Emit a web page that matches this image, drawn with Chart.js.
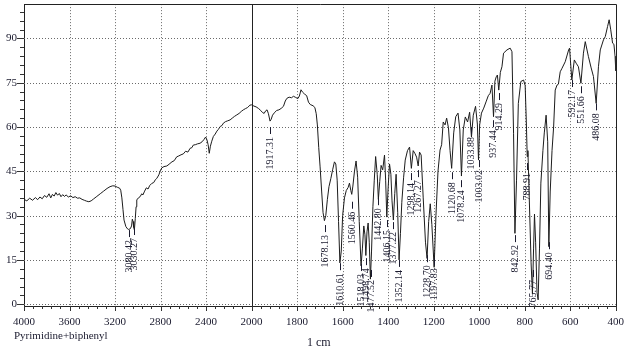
<!DOCTYPE html>
<html>
<head>
<meta charset="utf-8">
<script src="https://cdn.jsdelivr.net/npm/chart.js@4.4.1/dist/chart.umd.min.js"></script>
<style>
  html, body { margin: 0; padding: 0; background: #fff; }
  #wrap { position: relative; width: 624px; height: 352px; overflow: hidden; }
  canvas { position: absolute; left: 0; top: 0; }
  .note { position: absolute; font-family: "Liberation Serif", "DejaVu Serif", serif; color: #1a1a2e; white-space: nowrap; }
</style>
</head>
<body>
<div id="wrap">
  <canvas id="c" width="624" height="352"></canvas>
  <div class="note" id="sample" style="left:14px; top:329px; font-size:11px;">Pyrimidine+biphenyl</div>
  <div class="note" id="scaleNote" style="left:307px; top:335px; font-size:12px;">1 cm</div>
</div>
<script>
// ---- data ----
const xTickLabels = [4000, 3600, 3200, 2800, 2400, 2000, 1800, 1600, 1400, 1200, 1000, 800, 600, 400];
const yTickLabels = [0, 15, 30, 45, 60, 75, 90];

const wavenumber = [
  4000, 3975, 3950, 3925, 3900, 3880, 3860, 3840, 3820, 3800, 3780, 3765, 3750, 3735, 3720, 3705, 3690, 3675, 3660, 3645,
  3630, 3610, 3590, 3570, 3550, 3530, 3510, 3490, 3470, 3450, 3430, 3410, 3390, 3360, 3330, 3300, 3270, 3244, 3220, 3200,
  3180, 3160, 3150, 3140, 3130, 3121, 3105, 3090, 3080, 3065, 3055, 3048, 3042, 3036, 3030, 3022, 3015, 3009, 2995, 2980,
  2965, 2955, 2940, 2925, 2910, 2895, 2877, 2860, 2845, 2833, 2815, 2800, 2788, 2770, 2745, 2725, 2700, 2680, 2658, 2640,
  2620, 2600, 2580, 2560, 2540, 2525, 2512, 2495, 2475, 2453, 2435, 2418, 2404, 2392, 2382, 2372, 2362, 2350, 2336, 2320,
  2305, 2292, 2275, 2260, 2248, 2230, 2210, 2189, 2170, 2150, 2130, 2110, 2090, 2073, 2055, 2035, 2015, 2000, 1990, 1980,
  1970, 1960, 1952, 1945, 1938, 1932, 1926, 1919, 1914, 1908, 1900, 1890, 1880, 1870, 1860, 1852, 1845, 1835, 1825, 1816,
  1806, 1797, 1790, 1783, 1776, 1768, 1758, 1750, 1742, 1730, 1722, 1716, 1711, 1705, 1699, 1692, 1686, 1680, 1674, 1667,
  1660, 1652, 1644, 1636, 1630, 1624, 1618, 1612, 1606, 1600, 1592, 1584, 1576, 1570, 1564, 1560, 1555, 1548, 1541, 1534,
  1527, 1519, 1513, 1507, 1502, 1498, 1493, 1488, 1483, 1478, 1473, 1467, 1461, 1455, 1448, 1443, 1437, 1431, 1424, 1416,
  1411, 1406, 1400, 1394, 1388, 1383, 1377, 1371, 1365, 1358, 1352, 1346, 1340, 1332, 1325, 1315, 1306, 1298, 1290, 1282,
  1275, 1268, 1262, 1255, 1246, 1236, 1229, 1222, 1215, 1208, 1198, 1190, 1181, 1172, 1165, 1158, 1150, 1143, 1135, 1128,
  1121, 1112, 1103, 1093, 1085, 1078, 1070, 1061, 1051, 1042, 1034, 1026, 1016, 1008, 1003, 998, 990, 980, 970, 960,
  952, 944, 937, 931, 925, 920, 914, 907, 900, 893, 878, 864, 856, 849, 843, 836, 828, 817, 805, 798,
  793, 789, 786, 780, 772, 766, 761, 757, 752, 746, 741, 735, 729, 720, 714, 706, 699, 694, 688, 680,
  673, 666, 658, 652, 644, 636, 622, 607, 603, 593, 582, 574, 564, 553, 542, 534, 520, 508, 498, 486,
  476, 468, 454, 446, 436, 429, 422, 414, 408, 403, 400
];
const transmittance = [
  35.5, 35.0, 35.9, 35.2, 36.1, 35.4, 36.3, 35.7, 36.8, 36.2, 37.4, 36.0, 37.2, 36.6, 37.8, 36.9, 37.5, 36.4, 37.1, 36.5,
  37.0, 36.3, 36.7, 36.1, 36.4, 35.9, 36.0, 35.5, 35.2, 34.9, 34.7, 35.0, 35.6, 36.5, 37.4, 38.3, 39.2, 39.8, 40.1, 40.0,
  39.6, 39.3, 38.6, 36.0, 32.0, 28.5, 26.3, 25.5, 25.3, 25.6, 26.5, 28.8, 28.0, 26.0, 25.2, 29.0, 33.0, 35.3, 36.0, 36.4,
  37.4, 37.0, 38.3, 39.4, 39.0, 40.2, 40.9, 41.2, 42.2, 42.6, 43.8, 45.4, 46.2, 46.6, 46.8, 47.4, 48.2, 48.6, 49.9, 50.2,
  50.6, 50.9, 51.8, 51.5, 52.8, 53.0, 53.9, 54.0, 54.3, 54.5, 55.0, 55.8, 56.6, 55.6, 54.0, 51.1, 53.5, 55.2, 56.8, 57.6,
  58.6, 59.2, 60.2, 60.5, 61.3, 61.8, 62.1, 62.4, 63.0, 63.6, 64.1, 64.6, 65.3, 65.8, 66.2, 66.6, 67.4, 67.5, 67.1, 66.8,
  66.3, 65.6, 64.9, 64.6, 65.5, 65.8, 64.5, 62.0, 62.6, 64.0, 64.8, 65.6, 65.8, 66.3, 67.0, 68.8, 69.7, 70.1, 69.9, 70.4,
  70.0, 69.6, 70.5, 72.6, 71.8, 71.2, 70.6, 68.4, 67.6, 67.2, 66.6, 64.5, 60.7, 53.0, 46.5, 38.0, 31.0, 28.3, 30.0, 35.5,
  39.8, 42.5, 45.5, 48.2, 47.5, 42.0, 28.0, 14.0, 18.0, 30.0, 36.0, 38.5, 39.5, 41.0, 38.5, 37.2, 40.0, 45.0, 48.5, 43.0,
  28.0, 13.0, 19.0, 26.5, 23.5, 16.5, 24.5, 27.5, 21.0, 8.5, 18.0, 33.0, 42.0, 50.0, 44.0, 35.5, 41.5, 47.0, 45.5, 50.5,
  42.0, 29.5, 39.5, 47.5, 44.0, 35.0, 28.5, 37.5, 44.0, 31.0, 15.0, 24.0, 34.5, 43.0, 48.8, 52.0, 53.2, 46.0, 52.0, 51.0,
  49.8, 46.8, 51.5, 50.5, 36.0, 21.0, 15.5, 28.0, 34.0, 27.0, 12.5, 30.0, 45.0, 52.2, 54.0, 61.7, 60.7, 63.0, 59.7, 52.0,
  46.0, 58.0, 63.5, 64.7, 59.0, 43.4, 59.0, 63.4, 61.7, 65.0, 56.6, 64.0, 67.0, 61.0, 48.8, 60.7, 64.7, 66.4, 68.5, 70.6,
  71.4, 74.2, 63.5, 75.5, 77.0, 77.6, 72.5, 78.5, 80.4, 85.0, 86.1, 86.7, 85.5, 57.9, 24.0, 42.0, 68.0, 75.4, 75.9, 74.0,
  62.0, 50.0, 52.0, 36.0, 14.0, 3.5, 19.0, 30.5, 21.0, 4.0, 1.5, 19.0, 41.0, 52.0, 58.0, 64.0, 55.0, 19.5, 38.0, 52.0,
  60.0, 72.5, 74.2, 74.5, 78.7, 79.9, 82.1, 86.1, 86.7, 75.9, 82.7, 81.6, 80.4, 74.8, 85.0, 88.9, 83.8, 80.0, 77.1, 68.0,
  80.4, 86.1, 89.5, 90.6, 94.0, 96.3, 92.9, 88.4, 88.0, 84.0, 79.0
];

// peak annotations: label text and the %T level where each marker starts
const peakLabels = [
  "3080.42", "3030.27", "1917.31", "1678.13", "1610.61", "1560.46", "1518.03", "1498.74", "1477.52", "1442.80",
  "1406.15", "1377.22", "1352.14", "1298.14", "1267.27", "1228.70", "1197.83", "1120.68", "1078.24", "1033.88",
  "1003.02", "937.44", "914.29", "842.92", "788.91", "765.77", "694.40", "592.17", "551.66", "486.08"
];
const peakMarkT = [
  25.1, 25.8, 60.0, 26.8, 13.9, 34.7, 13.6, 15.6, 11.6, 35.9,
  28.5, 27.8, 15.0, 44.4, 45.4, 16.6, 15.6, 44.7, 42.0, 60.0,
  48.8, 62.3, 71.5, 23.4, 47.8, 11.6, 21.0, 75.9, 73.8, 68.0
];

// ---- styling ----
const inkColor = '#1a1a2e';
const lineColor = '#1c1c1c';
const gridColor = '#6a6a6a';
const fontFamily = '"Liberation Serif", "DejaVu Serif", serif';

// minor ticks: 5 subdivisions per major interval
const xTickValues = [];
for (let i = 0; i < xTickLabels.length - 1; i++) {
  const a = xTickLabels[i], b = xTickLabels[i + 1];
  for (let k = 0; k < 5; k++) xTickValues.push(a + (b - a) * k / 5);
}
xTickValues.push(xTickLabels[xTickLabels.length - 1]);
const yTickValues = [];
for (let v = 0; v <= 99; v += 3) yTickValues.push(v);

// piecewise-linear wavenumber axis (each labelled interval gets equal width)
function waveFrac(v) {
  const n = xTickLabels.length - 1;
  for (let i = 0; i < n; i++) {
    const a = xTickLabels[i], b = xTickLabels[i + 1];
    if (v <= a && v >= b) return (i + (a - v) / (a - b)) / n;
  }
  if (v > xTickLabels[0]) return (xTickLabels[0] - v) / (xTickLabels[0] - xTickLabels[1]) / n;
  const a = xTickLabels[n - 1], b = xTickLabels[n];
  return (n - 1 + (a - v) / (a - b)) / n;
}
function fracWave(f) {
  const n = xTickLabels.length - 1;
  let i = Math.min(n - 1, Math.max(0, Math.floor(f * n)));
  const a = xTickLabels[i], b = xTickLabels[i + 1];
  return a - (f * n - i) * (a - b);
}

class IRWaveScale extends Chart.LinearScale {
  buildTicks() { return xTickValues.map(v => ({ value: v })); }
  getPixelForValue(v) { return this.getPixelForDecimal(waveFrac(v)); }
  getValueForPixel(p) { return fracWave(this.getDecimalForPixel(p)); }
}
IRWaveScale.id = 'irwave';
IRWaveScale.defaults = Chart.LinearScale.defaults;
Chart.register(IRWaveScale);

const points = wavenumber.map((w, i) => ({ x: w, y: transmittance[i] }));

const framePlugin = {
  id: 'frame',
  beforeDatasetsDraw(chart) {
    const { ctx, chartArea: ca, scales: { x, y } } = chart;
    ctx.save();
    ctx.lineWidth = 1;
    ctx.strokeStyle = gridColor;
    ctx.setLineDash([1, 2]);
    xTickLabels.forEach(v => {
      if (v === 2000 || v === xTickLabels[0] || v === xTickLabels[xTickLabels.length - 1]) return;
      const px = Math.round(x.getPixelForValue(v)) + 0.5;
      ctx.beginPath(); ctx.moveTo(px, ca.top); ctx.lineTo(px, ca.bottom); ctx.stroke();
    });
    yTickLabels.forEach(v => {
      const py = Math.round(y.getPixelForValue(v)) + 0.5;
      ctx.beginPath(); ctx.moveTo(ca.left, py); ctx.lineTo(ca.right, py); ctx.stroke();
    });
    ctx.setLineDash([]);
    ctx.strokeStyle = '#222';
    // solid line where the scale changes
    const p2000 = Math.round(x.getPixelForValue(2000)) + 0.5;
    ctx.beginPath(); ctx.moveTo(p2000, ca.top); ctx.lineTo(p2000, ca.bottom); ctx.stroke();
    // top and right frame
    ctx.beginPath();
    ctx.moveTo(ca.left, Math.round(ca.top) + 0.5);
    ctx.lineTo(Math.round(ca.right) + 0.5, Math.round(ca.top) + 0.5);
    ctx.lineTo(Math.round(ca.right) + 0.5, ca.bottom);
    ctx.stroke();
    // tick marks (minor short, major longer)
    ctx.strokeStyle = '#333';
    yTickValues.forEach(v => {
      const py = Math.round(y.getPixelForValue(v)) + 0.5;
      const len = yTickLabels.includes(v) ? 7 : 4;
      ctx.beginPath(); ctx.moveTo(ca.left - len, py); ctx.lineTo(ca.left, py); ctx.stroke();
    });
    xTickValues.forEach(v => {
      const px = Math.round(x.getPixelForValue(v)) + 0.5;
      const len = xTickLabels.includes(v) ? 5 : 3;
      ctx.beginPath(); ctx.moveTo(px, ca.bottom); ctx.lineTo(px, ca.bottom + len); ctx.stroke();
    });
    ctx.restore();
  },
  afterDatasetsDraw(chart) {
    const { ctx, scales: { x, y } } = chart;
    ctx.save();
    ctx.font = '10px ' + fontFamily;
    ctx.fillStyle = inkColor;
    ctx.strokeStyle = inkColor;
    ctx.lineWidth = 1;
    peakLabels.forEach((lab, i) => {
      const px = Math.round(x.getPixelForValue(parseFloat(lab))) + 0.5;
      const py = y.getPixelForValue(peakMarkT[i]);
      ctx.beginPath(); ctx.moveTo(px, py); ctx.lineTo(px, py + 7); ctx.stroke();
      ctx.save();
      ctx.translate(px, py + 10);
      ctx.rotate(-Math.PI / 2);
      ctx.textAlign = 'right';
      ctx.textBaseline = 'middle';
      ctx.fillText(lab, 0, 0);
      ctx.restore();
    });
    ctx.restore();
  }
};

new Chart(document.getElementById('c'), {
  type: 'line',
  data: {
    datasets: [{
      data: points,
      borderColor: lineColor,
      borderWidth: 1,
      pointRadius: 0,
      tension: 0,
      fill: false
    }]
  },
  options: {
    responsive: false,
    animation: false,
    events: [],
    layout: { padding: { top: 0, right: 0, left: 0, bottom: 0 } },
    plugins: { legend: { display: false }, tooltip: { enabled: false }, title: { display: false } },
    scales: {
      x: {
        type: 'irwave',
        position: 'bottom',
        min: 400,
        max: 4000,
        afterFit: s => { s.height = 46; },
        grid: { drawOnChartArea: false, drawTicks: true, tickLength: 10, tickColor: 'rgba(0,0,0,0)' },
        border: { display: true, color: '#222', width: 1 },
        ticks: {
          autoSkip: false, maxRotation: 0, minRotation: 0, padding: 0,
          color: inkColor, font: { family: fontFamily, size: 11 },
          callback: v => (xTickLabels.includes(v) ? String(v) : '')
        }
      },
      y: {
        type: 'linear',
        min: -0.6,
        max: 101.6,
        afterFit: s => { s.width = 24; },
        afterBuildTicks: s => { s.ticks = yTickValues.map(v => ({ value: v })); },
        grid: { drawOnChartArea: false, drawTicks: true, tickLength: 7, tickColor: 'rgba(0,0,0,0)' },
        border: { display: true, color: '#222', width: 1 },
        ticks: {
          autoSkip: false, padding: 0,
          color: inkColor, font: { family: fontFamily, size: 11, lineHeight: 0.75 },
          callback: v => (yTickLabels.includes(v) ? String(v) : '')
        }
      }
    }
  },
  plugins: [framePlugin]
});
</script>
</body>
</html>
